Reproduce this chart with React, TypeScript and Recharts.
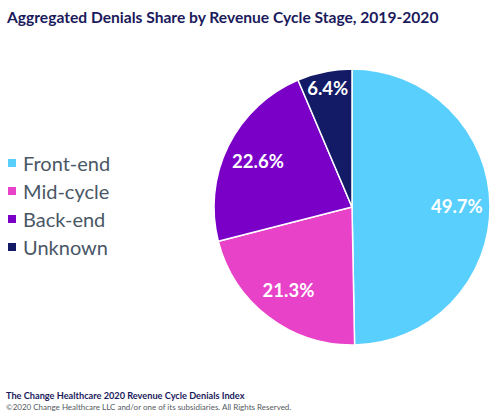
import React from "react";
import { PieChart, Pie, Cell } from "recharts";

const stages = ["Front-end", "Mid-cycle", "Back-end", "Unknown"];
const shares = [49.7, 21.3, 22.6, 6.4];
const colors = ["#58cffd", "#e842c8", "#7a00c8", "#131a66"];

const data = stages.map((name, i) => ({ name, value: shares[i] }));

const RAD = Math.PI / 180;

function renderLabel(props: any) {
  const { cx, cy, midAngle, outerRadius, value } = props;
  // small slices push their label further out so it fits
  const r = outerRadius * (value < 10 ? 0.88 : 0.76);
  const x = cx + r * Math.cos(-midAngle * RAD);
  const y = cy + r * Math.sin(-midAngle * RAD);
  return (
    <text
      x={x}
      y={y}
      fill="#ffffff"
      textAnchor="middle"
      dominantBaseline="central"
      fontFamily="Lato"
      fontWeight={700}
      fontSize={18.5}
    >
      {value.toFixed(1)}%
    </text>
  );
}

function LegendList() {
  return (
    <div style={{ position: "absolute", left: 8, top: 149 }}>
      {stages.map((name, i) => (
        <div
          key={name}
          style={{ display: "flex", alignItems: "center", height: 28 }}
        >
          <span
            style={{
              width: 8,
              height: 8,
              background: colors[i],
              marginRight: 7,
              display: "inline-block",
            }}
          />
          <span style={{ fontSize: 20, color: "#4a5766" }}>{name}</span>
        </div>
      ))}
    </div>
  );
}

export default function App() {
  return (
    <div
      style={{
        position: "absolute",
        left: 0,
        top: 0,
        width: 500,
        height: 416,
        background: "#ffffff",
        fontFamily: "Lato",
      }}
    >
      <div
        style={{
          position: "absolute",
          left: 7,
          top: 8,
          fontSize: 15.6,
          fontWeight: 700,
          color: "#1b1a5c",
          whiteSpace: "nowrap",
        }}
      >
        Aggregated Denials Share by Revenue Cycle Stage, 2019-2020
      </div>
      <div style={{ position: "absolute", left: 0, top: 0 }}>
        <PieChart width={500} height={416} margin={{ top: 0, right: 0, bottom: 0, left: 0 }}>
          <Pie
            data={data}
            dataKey="value"
            nameKey="name"
            cx={352}
            cy={207}
            outerRadius={138}
            startAngle={90}
            endAngle={-270}
            stroke="#ffffff"
            strokeWidth={1.5}
            label={renderLabel}
            labelLine={false}
            isAnimationActive={false}
          >
            {data.map((d, i) => (
              <Cell key={d.name} fill={colors[i]} />
            ))}
          </Pie>
        </PieChart>
      </div>
      <LegendList />
      <div
        style={{
          position: "absolute",
          left: 6,
          top: 390,
          fontSize: 9.2,
          fontWeight: 700,
          color: "#1b1a5c",
          whiteSpace: "nowrap",
        }}
      >
        The Change Healthcare 2020 Revenue Cycle Denials Index
      </div>
      <div
        style={{
          position: "absolute",
          left: 6,
          top: 402,
          fontSize: 8,
          color: "#555a60",
          whiteSpace: "nowrap",
        }}
      >
        ©2020 Change Healthcare LLC and/or one of its subsidiaries. All Rights Reserved.
      </div>
    </div>
  );
}
